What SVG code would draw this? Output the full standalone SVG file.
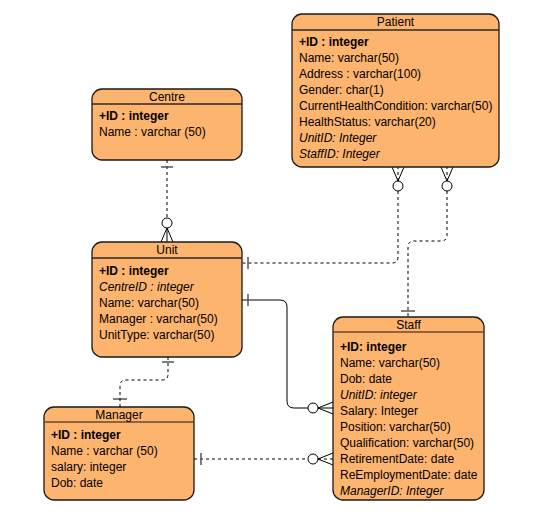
<svg xmlns="http://www.w3.org/2000/svg" width="540" height="532" viewBox="0 0 540 532">
<style>
.box{fill:#fdb46f;stroke:#1a1a1a;stroke-width:1.3}
.hdr{stroke:#2a2a2a;stroke-width:1.3}
.hdr2{stroke:#6b4a2a;stroke-width:1.6}
text{font-family:"Liberation Sans",Arial,sans-serif;font-size:12px;fill:#000}
.t{text-anchor:middle;font-size:12px}
.b{font-weight:bold}
.i{font-style:italic}
.c{fill:none;stroke:#000;stroke-width:1}
.d{stroke-dasharray:3,3}
.bar{stroke:#555;stroke-width:1.5}
.o{fill:#fff;stroke:#000;stroke-width:1}
</style>
<rect width="540" height="532" fill="#fff"/>
<g id="connectors">
  <!-- Centre - Unit -->
  <path class="c d" d="M167 160 V218"/>
  <line class="bar" x1="161" y1="167" x2="173" y2="167"/>
  <circle class="o" cx="167" cy="223" r="5"/>
  <path class="c" d="M167 228 L161 242 M167 228 L173 242 M167 228 V242"/>
  <!-- Unit - Manager -->
  <path class="c d" d="M168 357 V374 Q168 380 162 380 H126 Q120 380 120 386 V407"/>
  <line class="bar" x1="162" y1="362" x2="174" y2="362"/>
  <line class="c" x1="113" y1="399" x2="127" y2="399"/>
  <!-- Unit - Staff solid -->
  <path class="c" d="M242 300 H280 Q287 300 287 307 V401 Q287 408 294 408 H308"/>
  <line class="bar" x1="248" y1="294" x2="248" y2="306"/>
  <circle class="o" cx="313" cy="408" r="5"/>
  <path class="c" d="M318 408 L333 402 M318 408 L333 414 M318 408 H333"/>
  <!-- Manager - Staff dashed -->
  <path class="c d" d="M194 459 H308"/>
  <line class="bar" x1="201" y1="453" x2="201" y2="465"/>
  <circle class="o" cx="313" cy="459" r="5"/>
  <path class="c" d="M318 459 L333 453 M318 459 L333 465"/>
  <path class="c d" d="M318 459 H333"/>
  <!-- Patient - Unit -->
  <path class="c d" d="M398 191 V257 Q398 263 392 263 H242"/>
  <line class="bar" x1="248" y1="257" x2="248" y2="269"/>
  <circle class="o" cx="398" cy="186" r="5"/>
  <path class="c" d="M398 181 L392 167 M398 181 L404 167"/>
  <path class="c d" d="M398 181 V167"/>
  <!-- Patient - Staff -->
  <path class="c d" d="M447 191 V235 Q447 241 441 241 H414 Q408 241 408 247 V317"/>
  <line class="c" x1="401" y1="311" x2="415" y2="311"/>
  <circle class="o" cx="447" cy="186" r="5"/>
  <path class="c" d="M447 181 L441 167 M447 181 L453 167"/>
  <path class="c d" d="M447 181 V167"/>
</g>
<g id="patient">
  <rect class="box" x="292" y="14" width="207" height="153" rx="10"/>
  <line class="hdr" x1="292" y1="30" x2="499" y2="30"/>
  <text class="t" x="395.5" y="26">Patient</text>
  <text class="b" x="299" y="46">+ID : integer</text>
  <text x="299" y="62">Name: varchar(50)</text>
  <text x="299" y="78">Address : varchar(100)</text>
  <text x="299" y="94">Gender: char(1)</text>
  <text x="299" y="110">CurrentHealthCondition: varchar(50)</text>
  <text x="299" y="126">HealthStatus: varchar(20)</text>
  <text class="i" x="299" y="142">UnitID: Integer</text>
  <text class="i" x="299" y="158">StaffID: Integer</text>
</g>
<g id="centre">
  <rect class="box" x="92" y="89" width="150" height="71" rx="10"/>
  <line class="hdr" x1="92" y1="104" x2="242" y2="104"/>
  <text class="t" x="167" y="101">Centre</text>
  <text class="b" x="99" y="120">+ID : integer</text>
  <text x="99" y="136">Name : varchar (50)</text>
</g>
<g id="unit">
  <rect class="box" x="92" y="242" width="150" height="115" rx="10"/>
  <line class="hdr" x1="92" y1="258" x2="242" y2="258"/>
  <text class="t" x="167" y="254">Unit</text>
  <text class="b" x="99" y="275">+ID : integer</text>
  <text class="i" x="99" y="291">CentreID : integer</text>
  <text x="99" y="307">Name: varchar(50)</text>
  <text x="99" y="323">Manager : varchar(50)</text>
  <text x="99" y="339">UnitType: varchar(50)</text>
</g>
<g id="manager">
  <rect class="box" x="44" y="407" width="150" height="93" rx="10"/>
  <line class="hdr2" x1="44" y1="422" x2="194" y2="422"/>
  <text class="t" x="119" y="419">Manager</text>
  <text class="b" x="51" y="439">+ID : integer</text>
  <text x="51" y="455">Name : varchar (50)</text>
  <text x="51" y="471">salary: integer</text>
  <text x="51" y="487">Dob: date</text>
</g>
<g id="staff">
  <rect class="box" x="333" y="317" width="151" height="183" rx="10"/>
  <line class="hdr2" x1="333" y1="332" x2="484" y2="332"/>
  <text class="t" x="408.5" y="329">Staff</text>
  <text class="b" x="340" y="351">+ID: integer</text>
  <text x="340" y="367">Name: varchar(50)</text>
  <text x="340" y="383">Dob: date</text>
  <text class="i" x="340" y="399">UnitID: integer</text>
  <text x="340" y="415">Salary: Integer</text>
  <text x="340" y="431">Position: varchar(50)</text>
  <text x="340" y="447">Qualification: varchar(50)</text>
  <text x="340" y="463">RetirementDate: date</text>
  <text x="340" y="479">ReEmploymentDate: date</text>
  <text class="i" x="340" y="495">ManagerID: Integer</text>
</g>
</svg>
